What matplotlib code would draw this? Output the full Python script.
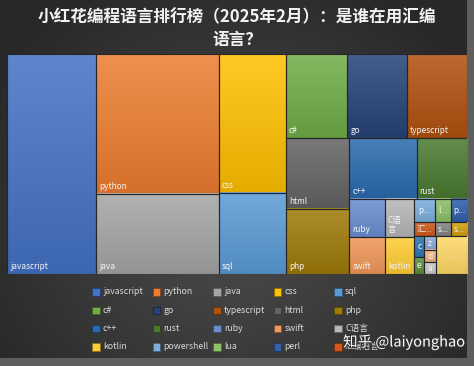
import numpy as np
import matplotlib.pyplot as plt
from matplotlib.patches import Rectangle
from matplotlib.colors import to_rgb
import matplotlib.patheffects as pe

plt.rcParams['font.family'] = ['Noto Sans CJK SC', 'DejaVu Sans']

languages = ['javascript', 'python', 'java', 'css', 'sql',
             'c#', 'go', 'typescript', 'html', 'php',
             'c++', 'rust', 'ruby', 'swift', 'C语言',
             'kotlin', 'powershell', 'lua', 'perl', '汇编语言',
             'scala', 'shell', 'cobol', 'elixir', 'zig',
             'dart', 'ada', '其他']
shares = [19.4, 16.9, 9.7, 9.2, 5.4,
          5.1, 5.0, 5.0, 4.4, 4.1,
          4.0, 3.0, 1.35, 1.28, 1.12,
          1.06, 0.50, 0.36, 0.38, 0.29,
          0.21, 0.22, 0.21, 0.17, 0.15,
          0.14, 0.13, 1.17]
# text Excel actually shows in each tile
shown = ['javascript', 'python', 'java', 'css', 'sql',
         'c#', 'go', 'typescript', 'html', 'php',
         'c++', 'rust', 'ruby', 'swift', 'C语\n言',
         'kotlin', 'p...', 'l...', 'p...', '汇...',
         's...', 's...', 'c', 'e', 'z',
         'd', 'a', '...']
colors = ['#4472C4', '#ED7D31', '#A5A5A5', '#FFC000', '#5B9BD5',
          '#70AD47', '#264478', '#B0510F', '#636363', '#9E7A08',
          '#2A6AAE', '#4A7A2F', '#698ED0', '#F1975A', '#B7B7B7',
          '#FFCD33', '#7CAFDD', '#8CC168', '#3060AE', '#D0581A',
          '#848484', '#D4A00C', '#2F75B5', '#5A8F3A', '#8FAADC',
          '#F4B183', '#C9C9C9', '#FFD966']

# how the tiles are nested: 'h' = side by side, 'v' = stacked
layout = ('h', [0, ('v', [1, 2]), ('v', [3, 4]),
                ('v', [('h', [5, 6, 7]),
                       ('h', [('v', [8, 9]),
                              ('v', [('h', [10, 11]),
                                     ('h', [('v', [12, 13]), ('v', [14, 15]),
                                            ('v', [('h', [16, 17, 18]),
                                                   ('h', [19, 20, 21]),
                                                   ('h', [('v', [22, 23]),
                                                          ('v', [24, 25, 26]),
                                                          27])])])])])])])


def total(node):
    if isinstance(node, int):
        return shares[node]
    return sum(total(c) for c in node[1])


def place(node, x, y, w, h, out):
    if isinstance(node, int):
        out[node] = (x, y, w, h)
        return
    kind, children = node
    t = total(node)
    for c in children:
        f = total(c) / t
        if kind == 'h':
            place(c, x, y, w * f, h, out)
            x += w * f
        else:
            place(c, x, y, w, h * f, out)
            y += h * f


def mix(c, other, a):
    c = np.array(to_rgb(c))
    return c * (1 - a) + np.array(other) * a


fig = plt.figure(figsize=(4.74, 3.66), dpi=100)
fig.patch.set_facecolor('#5e5e5e')

# dark backdrop with soft radial light
bg = fig.add_axes([0, 8 / 366, 467 / 474, 358 / 366])
yy, xx = np.mgrid[0:1:200j, 0:1:200j]
r = np.clip(np.sqrt(((xx - 0.5) / 0.6) ** 2 + ((yy - 0.62) / 0.75) ** 2), 0, 1)
edge, mid = np.array([0.16, 0.16, 0.16]), np.array([0.30, 0.30, 0.30])
img = mid * (1 - r[..., None]) + edge * r[..., None]
bg.imshow(img, extent=[0, 1, 0, 1], aspect='auto', origin='upper')
bg.axis('off')

ax = fig.add_axes([7 / 474, (366 - 274) / 366, 460 / 474, 220 / 366])
rects = {}
place(layout, 0, 0, 1, 1, rects)
for i, (x, y, w, h) in rects.items():
    top, bot = mix(colors[i], (1, 1, 1), 0.14), mix(colors[i], (0, 0, 0), 0.10)
    grad = np.linspace(0, 1, 32)[:, None, None]
    ax.imshow(top * (1 - grad) + bot * grad, extent=[x, x + w, y + h, y],
              origin='upper', aspect='auto', interpolation='bilinear')
    ax.add_patch(Rectangle((x, y), w, h, fill=False, edgecolor='#262626', lw=0.8))
    label = shown[i]
    if '...' in label or len(label) == 1:
        ax.text(x + w / 2, y + h / 2, label, ha='center', va='center',
                fontsize=6, color='#f4f4f4')
    else:
        ax.annotate(label, (x, y + h), xytext=(2.2, 2.2), textcoords='offset points',
                    ha='left', va='bottom', fontsize=6.0, color='#f4f4f4',
                    linespacing=1.0)
ax.set_xlim(0, 1)
ax.set_ylim(1, 0)
ax.axis('off')

fig.text(0.5, 1 - 17 / 366, '小红花编程语言排行榜（2025年2月）：是谁在用汇编',
         ha='center', va='center', fontsize=12, fontweight='bold', color='#f2f2f2')
fig.text(0.5, 1 - 40 / 366, '语言？', ha='center', va='center',
         fontsize=12, fontweight='bold', color='#f2f2f2')

# legend, 5 per row like Excel
for i in range(20):
    row, col = divmod(i, 5)
    lx = (92 + col * 60.5) / 474
    ly = 1 - (292 + row * 18.3) / 366
    fig.patches.append(Rectangle((lx, ly - 3.7 / 366), 7.5 / 474, 7.5 / 366,
                                 transform=fig.transFigure, facecolor=colors[i],
                                 edgecolor=mix(colors[i], (0, 0, 0), 0.45), lw=0.6))
    fig.text(lx + 11 / 474, ly, languages[i], ha='left', va='center',
             fontsize=6.3, color='#d9d9d9')

# watermark sits over the last legend entry, as in the original
fig.text(343 / 474, 1 - 342 / 366, '知乎 @laiyonghao', ha='left', va='center',
         fontsize=10.5, color='white',
         path_effects=[pe.withStroke(linewidth=1.5, foreground='#333333')])

fig.savefig('out.png', dpi=100, facecolor=fig.get_facecolor())
